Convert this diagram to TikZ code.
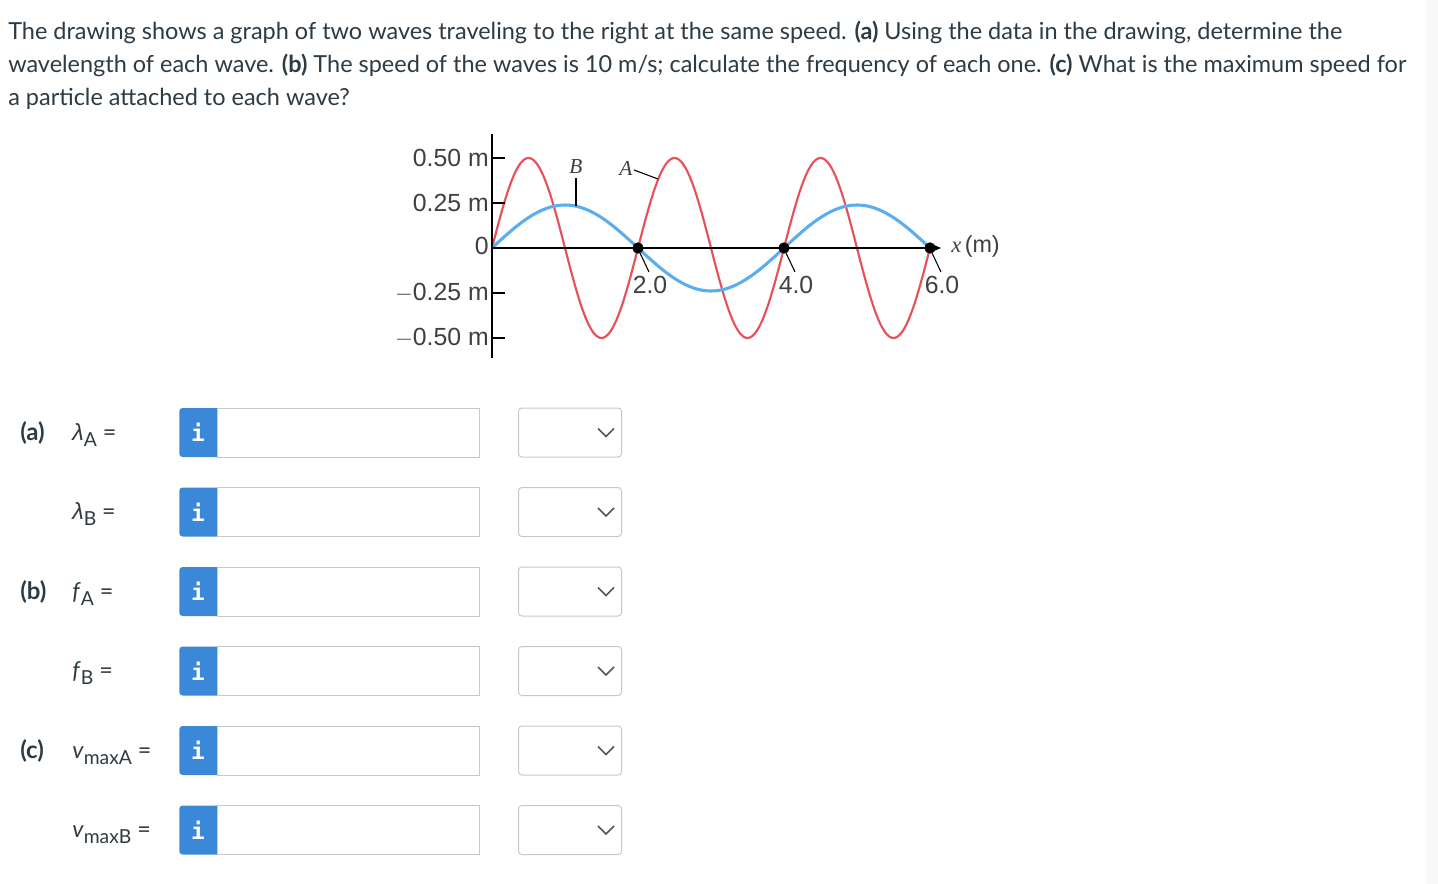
\documentclass[tikz,border=0pt]{standalone}
\usepackage{fontspec}
\setmainfont{Lato}
\newfontfamily\plotfont{Liberation Sans}
\newfontfamily\plotserif{Liberation Serif}
\newfontfamily\grkfont{Liberation Sans}
\newfontfamily\iconfont{DejaVu Sans Mono}
\usetikzlibrary{calc,arrows.meta}
\definecolor{txt}{HTML}{2D3B45}
\definecolor{gtxt}{HTML}{404040}
\definecolor{wred}{HTML}{E8505B}
\definecolor{wblue}{HTML}{5AAEF0}
\definecolor{iboxc}{HTML}{3B88D8}
\definecolor{bord}{HTML}{C8C8C8}
\definecolor{chev}{HTML}{555555}
\definecolor{strip}{HTML}{F9F9F9}
\newcommand{\subx}[1]{\raisebox{-5pt}{\fontsize{14.5pt}{14.5pt}\selectfont #1}}
\tikzset{
  qline/.style={anchor=base west, inner sep=0pt, text=txt, font=\fontsize{17.6pt}{20pt}\selectfont},
  plab/.style={inner sep=0pt, text=gtxt, font=\plotfont\fontsize{18.6pt}{20pt}\selectfont},
  wlab/.style={inner sep=0pt, text=gtxt, font=\plotserif\itshape\fontsize{16pt}{18pt}\selectfont},
  leader/.style={draw=black, line width=0.8pt},
  tickline/.style={draw=black, line width=1.3pt},
  dotpt/.style={circle, fill=black, inner sep=0pt, minimum size=8.5pt},
  partlab/.style={anchor=base west, inner sep=0pt, text=txt, font=\bfseries\fontsize{18pt}{20pt}\selectfont},
  varlab/.style={anchor=base west, inner sep=0pt, text=txt, font=\fontsize{17.5pt}{20pt}\selectfont},
  infobox/.style={anchor=west, fill=iboxc, rounded corners=2.5pt, minimum width=31.5pt, minimum height=36.75pt, inner sep=0pt},
  icontext/.style={text=white, inner sep=0pt, font=\iconfont\bfseries\fontsize{17pt}{17pt}\selectfont},
  inbox/.style={anchor=west, fill=white, draw=bord, line width=0.75pt, minimum width=196.5pt, minimum height=36.75pt, inner sep=0pt},
  ddbox/.style={anchor=west, fill=white, draw=bord, line width=0.75pt, rounded corners=2.5pt, minimum width=77.25pt, minimum height=36.75pt, inner sep=0pt},
  chevline/.style={draw=chev, line width=1.2pt}
}
\begin{document}
\begin{tikzpicture}[x=0.75pt,y=-0.75pt]
\useasboundingbox (0,0) rectangle (1438,884);
\fill[white] (0,0) rectangle (1438,884);
\fill[strip] (1426,0) rectangle (1438,884);

% question text
\node[qline] (q1) at (8,40) {The drawing shows a graph of two waves traveling to the right at the same speed. \textbf{(a)} Using the data in the drawing, determine the};
\node[qline] (q2) at (8,73) {wavelength of each wave. \textbf{(b)} The speed of the waves is 10 m/s; calculate the frequency of each one. \textbf{(c)} What is the maximum speed for};
\node[qline] (q3) at (8,106) {a particle attached to each wave?};

% waves
\draw[wred, line width=1.6pt, line join=round] plot[domain=0:6, samples=241, smooth] ({492+73*\x},{248-90*sin(180*\x)});
\draw[wblue, line width=2.3pt, line join=round] plot[domain=0:6, samples=121, smooth] ({492+73*\x},{248-43*sin(90*\x)});

% axes
\coordinate (ytop) at (492,134);
\coordinate (ybot) at (492,358);
\coordinate (xorg) at (492,248);
\coordinate (xend) at (941,248);
\draw[line width=1.9pt] (ytop) -- (ybot);
\draw[line width=1.5pt, -{Stealth[length=7pt,width=6pt]}] (xorg) -- (xend);
\foreach \yy/\lab/\nm in {158/0.50 m/t1, 203/0.25 m/t2, 293/{$-$0.25 m}/t3, 338/{$-$0.50 m}/t4} {
  \coordinate (\nm a) at (492,\yy);
  \coordinate (\nm b) at (505,\yy);
  \draw[tickline] (\nm a) -- (\nm b);
  \node[plab, anchor=east] (\nm l) at (489,\yy) {\lab};
}
\node[plab, anchor=east] (zl) at (489,246) {0};

% points on axis
\foreach \xx/\lab/\nm in {638/2.0/p2, 784/4.0/p4, 930/6.0/p6} {
  \node[dotpt] (\nm) at (\xx,248) {};
  \coordinate (\nm s) at (\xx+2,253);
  \coordinate (\nm e) at (\xx+11,272);
  \draw[leader] (\nm s) -- (\nm e);
  \node[plab] (\nm l) at (\xx+12,285) {\lab};
}

% wave labels
\node[wlab] (labB) at (576,167) {B};
\coordinate (bS) at (576,178);
\coordinate (bE) at (576,206);
\draw[leader] (bS) -- (bE);
\node[wlab] (labA) at (626,168) {A};
\coordinate (aS) at (634,170);
\coordinate (aE) at (658,179);
\draw[leader] (aS) -- (aE);
\node[anchor=west, inner sep=0pt, text=gtxt] (xlab) at (951,246) {{\plotserif\itshape\fontsize{17pt}{18pt}\selectfont x} {\plotfont\fontsize{17.5pt}{18pt}\selectfont(m)}};

% answer rows
\node[partlab] (pa) at (20,440) {(a)};
\node[partlab] (pb) at (20,599) {(b)};
\node[partlab] (pc) at (20,758) {(c)};
\node[varlab] (v1) at (72,440) {{\grkfont\itshape λ}\subx{A} =};
\node[varlab] (v2) at (72,519) {{\grkfont\itshape λ}\subx{B} =};
\node[varlab] (v3) at (72,599) {\textit{f}\subx{A} =};
\node[varlab] (v4) at (72,678) {\textit{f}\subx{B} =};
\node[varlab] (v5) at (72,758) {\textit{v}\subx{maxA} =};
\node[varlab] (v6) at (72,837) {\textit{v}\subx{maxB} =};

\foreach \r/\yy in {1/432.5, 2/512, 3/591.5, 4/671, 5/750.5, 6/830} {
  \node[infobox] (ib\r) at (179,\yy) {};
  \node[inbox] (in\r) at (217,\yy) {};
  \node[icontext] (ic\r) at (198,\yy) {i};
  \node[ddbox] (dd\r) at (518,\yy) {};
  \draw[chevline] ($(dd\r.east)+(-24,-4)$) -- ++(8,8) -- ++(8,-8);
}
\end{tikzpicture}
\end{document}
